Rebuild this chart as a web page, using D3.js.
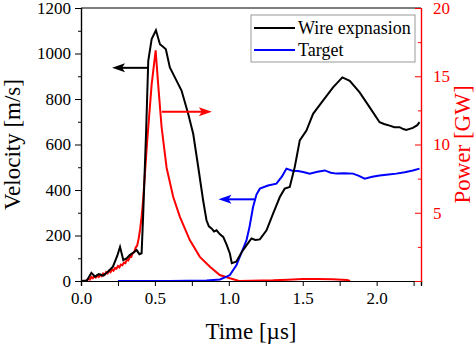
<!DOCTYPE html>
<html>
<head>
<meta charset="utf-8">
<script src="https://cdn.jsdelivr.net/npm/d3@7"></script>
<style>
  body { margin: 0; background: #fff; }
  text { font-family: "Liberation Serif", "Times New Roman", serif; }
</style>
</head>
<body>
<script>
// [time (us), velocity (m/s)]
var wireData = [
  [0.0, 0], [0.04, 2], [0.07, 36], [0.095, 19], [0.12, 30], [0.15, 24], [0.18, 40],
  [0.216, 63], [0.245, 110], [0.264, 150], [0.286, 92], [0.31, 100], [0.33, 114],
  [0.355, 125], [0.376, 136], [0.395, 118], [0.41, 122], [0.42, 282], [0.44, 648],
  [0.455, 968], [0.478, 1063], [0.507, 1102], [0.534, 1041], [0.555, 1030], [0.574, 1019],
  [0.601, 939], [0.635, 895], [0.68, 837], [0.725, 735], [0.759, 647], [0.793, 501],
  [0.826, 355], [0.849, 267], [0.865, 240], [0.883, 231], [0.9, 218], [0.917, 223],
  [0.94, 205], [0.962, 194], [0.985, 160], [1.007, 121], [1.02, 78], [1.05, 85],
  [1.09, 130], [1.12, 158], [1.153, 187], [1.18, 180], [1.21, 183], [1.255, 223],
  [1.3, 297], [1.345, 369], [1.378, 406], [1.412, 413], [1.446, 501], [1.48, 618],
  [1.525, 661], [1.57, 735], [1.637, 793], [1.705, 851], [1.768, 895], [1.818, 880],
  [1.885, 829], [1.953, 763], [2.02, 698], [2.05, 690], [2.088, 683], [2.12, 676],
  [2.155, 676], [2.18, 668], [2.2, 664], [2.245, 673], [2.275, 685], [2.29, 698]
]

// [time (us), velocity (m/s)]
var targetData = [
  [0.25, 0], [0.6, 0], [0.85, 2], [0.94, 7], [0.985, 19], [1.007, 26], [1.052, 70],
  [1.074, 106], [1.12, 180], [1.14, 238], [1.164, 325], [1.187, 380], [1.21, 406],
  [1.265, 420], [1.322, 428], [1.36, 460], [1.39, 494], [1.43, 485], [1.468, 483],
  [1.51, 478], [1.547, 472], [1.6, 480], [1.649, 486], [1.69, 476], [1.728, 472],
  [1.78, 474], [1.84, 472], [1.88, 462], [1.919, 450], [1.97, 458], [2.02, 464],
  [2.08, 468], [2.133, 472], [2.19, 478], [2.245, 486], [2.29, 494]
]

// [time (us), power (GW)]
var powerData = [
  [0.03, 0], [0.05, 0.15], [0.06, 0.1], [0.07, 0.3], [0.08, 0.2], [0.09, 0.35],
  [0.10, 0.25], [0.11, 0.4], [0.12, 0.3], [0.13, 0.45], [0.14, 0.35], [0.15, 0.55],
  [0.16, 0.45], [0.17, 0.65], [0.18, 0.55], [0.19, 0.75], [0.20, 0.65], [0.21, 0.85],
  [0.22, 0.75], [0.23, 0.95], [0.24, 0.9], [0.25, 1.1], [0.26, 1.0], [0.27, 1.2],
  [0.28, 1.15], [0.29, 1.35], [0.30, 1.3], [0.31, 1.55], [0.32, 1.5], [0.33, 1.75],
  [0.34, 1.75], [0.35, 2.05], [0.36, 2.1], [0.37, 2.45], [0.38, 2.6], [0.39, 3.1],
  [0.40, 3.8], [0.41, 4.7], [0.42, 5.9], [0.448, 10.3], [0.478, 14.4], [0.505, 16.9],
  [0.522, 14.4], [0.545, 11.3], [0.579, 8.3], [0.624, 6.15], [0.669, 4.7], [0.736, 3.0],
  [0.804, 1.77], [0.872, 1.04], [0.939, 0.44], [1.007, 0.2], [1.07, 0],
  [1.3, 0.05], [1.4, 0.1], [1.5, 0.15], [1.6, 0.14], [1.7, 0.12], [1.8, 0.08], [1.82, 0]
]

// arrows: from time -> to time, at value on given axis
var arrows = [
  { from: 0.453, to: 0.21, value: 937, axis: 'left', color: '#000' },
  { from: 0.547, to: 0.885, value: 12.4, axis: 'right', color: '#ff0000' },
  { from: 1.18, to: 0.93, value: 359, axis: 'left', color: '#0000ff' }
]

var legendItems = [
  { label: 'Wire expnasion', color: '#000' },
  { label: 'Target', color: '#0000ff' }
]

var xTicks = [0, 0.5, 1.0, 1.5, 2.0]
var xMinor = [0.25, 0.75, 1.25, 1.75, 2.25]
var yTicks = [0, 200, 400, 600, 800, 1000, 1200]
var yMinor = [100, 300, 500, 700, 900, 1100]
var pTicks = [5, 10, 15, 20]
var pMinor = [2.5, 7.5, 12.5, 17.5]

var width = 474
var height = 345
var pLeft = 81, pRight = 421, pTop = 8, pBottom = 281
var serif = '"Liberation Serif", "Times New Roman", serif'

var svg = d3.select('body')
  .append('svg')
  .attr('width', width)
  .attr('height', height)

var xScale = d3.scaleLinear().domain([0, 2.3]).range([pLeft, pRight])
var yScale = d3.scaleLinear().domain([0, 1200]).range([pBottom, pTop])
var pScale = d3.scaleLinear().domain([0, 20]).range([pBottom, pTop])

var lineV = d3.line().x(d => xScale(d[0])).y(d => yScale(d[1]))
var lineP = d3.line().x(d => xScale(d[0])).y(d => pScale(d[1]))

// curves
svg.append('path').datum(powerData)
  .attr('d', lineP).attr('fill', 'none').attr('stroke', '#ff0000').attr('stroke-width', 2)
svg.append('path').datum(targetData)
  .attr('d', lineV).attr('fill', 'none').attr('stroke', '#0000ff').attr('stroke-width', 2)
svg.append('path').datum(wireData)
  .attr('d', lineV).attr('fill', 'none').attr('stroke', '#000').attr('stroke-width', 2)

// top frame line
svg.append('line')
  .attr('x1', pLeft).attr('x2', pRight).attr('y1', pTop).attr('y2', pTop)
  .attr('stroke', '#000').attr('stroke-width', 1.2)

// x axis
svg.append('g')
  .attr('transform', 'translate(0,' + pBottom + ')')
  .call(d3.axisBottom(xScale).tickValues(xTicks).tickFormat(d3.format('.1f')).tickSizeOuter(0).tickSize(5).tickPadding(6))
svg.append('g')
  .attr('transform', 'translate(0,' + pBottom + ')')
  .call(d3.axisBottom(xScale).tickValues(xMinor).tickFormat('').tickSizeOuter(0).tickSize(5))

// left axis
svg.append('g')
  .attr('transform', 'translate(' + pLeft + ',0)')
  .call(d3.axisLeft(yScale).tickValues(yTicks).tickFormat(d3.format('d')).tickSizeOuter(0).tickSize(6).tickPadding(4))
svg.append('g')
  .attr('transform', 'translate(' + pLeft + ',0)')
  .call(d3.axisLeft(yScale).tickValues(yMinor).tickFormat('').tickSizeOuter(0).tickSize(3))

// right axis (ticks inside)
svg.append('g')
  .attr('class', 'paxis')
  .attr('transform', 'translate(' + pRight + ',0)')
  .call(d3.axisRight(pScale).tickValues(pTicks).tickFormat(d3.format('d')).tickSizeOuter(0).tickSize(-6).tickPadding(12))
svg.append('g')
  .attr('class', 'paxis')
  .attr('transform', 'translate(' + pRight + ',0)')
  .call(d3.axisRight(pScale).tickValues(pMinor).tickFormat('').tickSizeOuter(0).tickSize(-3))

svg.selectAll('.domain').attr('stroke-width', 1.2)
svg.selectAll('.tick text')
  .attr('font-family', serif)
  .attr('font-size', 17)
  .style('font-family', serif)
  .attr('fill', '#000')
svg.selectAll('.paxis .domain, .paxis .tick line').attr('stroke', '#ff0000')
svg.selectAll('.paxis .tick text').attr('fill', '#ff0000')

// axis titles
svg.append('text')
  .text('Time [µs]')
  .attr('x', (pLeft + pRight) / 2)
  .attr('y', 339)
  .attr('text-anchor', 'middle')
  .style('font-size', '23px')

svg.append('text')
  .text('Velocity [m/s]')
  .attr('transform', 'translate(20,' + ((pTop + pBottom) / 2) + ') rotate(-90)')
  .attr('text-anchor', 'middle')
  .style('font-size', '23px')

svg.append('text')
  .text('Power [GW]')
  .attr('transform', 'translate(470,' + ((pTop + pBottom) / 2) + ') rotate(-90)')
  .attr('text-anchor', 'middle')
  .attr('fill', '#ff0000')
  .style('font-size', '23px')

// arrows
arrows.forEach(function(a) {
  var sc = a.axis == 'left' ? yScale : pScale
  var x1 = xScale(a.from), x2 = xScale(a.to), y = sc(a.value)
  var dir = x2 > x1 ? 1 : -1
  svg.append('line')
    .attr('x1', x1).attr('x2', x2 - dir * 8).attr('y1', y).attr('y2', y)
    .attr('stroke', a.color).attr('stroke-width', 2)
  svg.append('path')
    .attr('d', 'M' + x2 + ',' + y + 'L' + (x2 - dir * 13) + ',' + (y - 4.5) +
      'L' + (x2 - dir * 10) + ',' + y + 'L' + (x2 - dir * 13) + ',' + (y + 4.5) + 'Z')
    .attr('fill', a.color)
})

// legend
var legend = svg.append('g')
  .attr('transform', 'translate(251,15)')

legend.append('rect')
  .attr('width', 164).attr('height', 47)
  .attr('fill', '#fff').attr('stroke', '#999').attr('stroke-width', 1)

legendItems.forEach(function(d, i) {
  legend.append('line')
    .attr('x1', 3).attr('x2', 44).attr('y1', 13 + i * 22).attr('y2', 13 + i * 22)
    .attr('stroke', d.color).attr('stroke-width', 2)
  legend.append('text')
    .text(d.label)
    .attr('x', 47).attr('y', 19 + i * 22)
    .style('font-size', '18px')
})
</script>
</body>
</html>
